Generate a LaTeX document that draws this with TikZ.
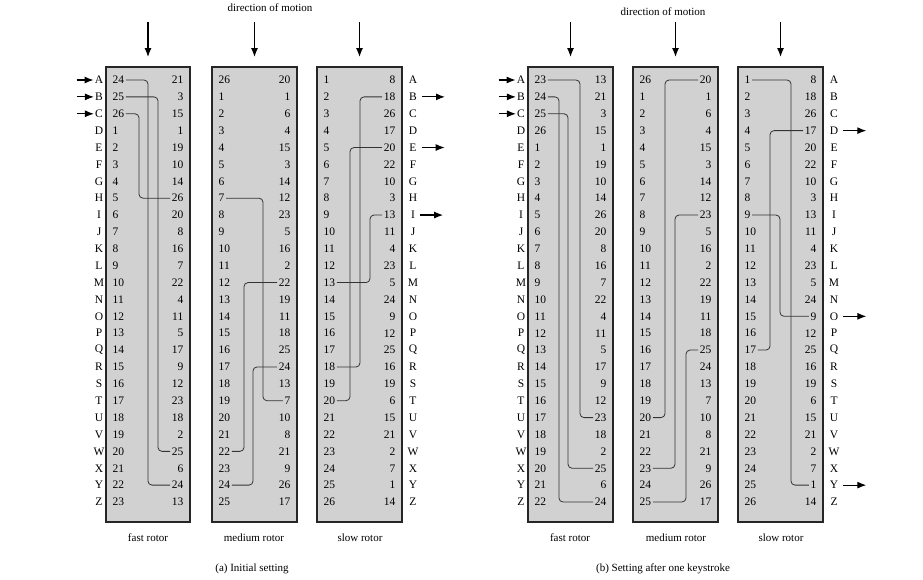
\documentclass[tikz,border=0pt]{standalone}
\usepackage{fontspec}
\setmainfont{Liberation Serif}
\usetikzlibrary{arrows.meta}
\tikzset{
  box/.style={draw=black!85,line width=1.3pt,fill=black!18},
  num/.style={font=\fontsize{11.5}{12}\selectfont,inner sep=1.5pt},
  let/.style={font=\fontsize{11.5}{12}\selectfont,inner sep=1pt},
  wire/.style={draw=black!80,line width=0.8pt,rounded corners=4pt},
  arr/.style={-{Latex[length=9pt,width=7pt]},line width=1.2pt},
  captxt/.style={font=\fontsize{11}{12}\selectfont}
}
\newcommand\rotorcol[5]{%
  \draw[box] (#2,67) rectangle (#3,522);
  \foreach \v [count=\i] in {#4} {\node[num,anchor=west] (#1L\i) at ({#2+5},{80+(\i-1)*16.88}) {\v};}
  \foreach \v [count=\i] in {#5} {\node[num,anchor=east] (#1R\i) at ({#3-5},{80+(\i-1)*16.88}) {\v};}
  \draw[arr] ({(#2+#3)/2},22) -- ({(#2+#3)/2},57);
}
\newcommand\lettercols[3]{%
  \foreach \c [count=\i] in {A,B,C,D,E,F,G,H,I,J,K,L,M,N,O,P,Q,R,S,T,U,V,W,X,Y,Z} {
    \node[let] (#1l\i) at ({#2-7},{80+(\i-1)*16.88}) {\c};
    \node[let] (#1r\i) at ({#3+11},{80+(\i-1)*16.88}) {\c};
  }
}
\newcommand\wirexy[4]{%
  \coordinate (#4) at (#2,0);
  \draw[wire] (#1.east) -- (#1.east -| #4) -- (#4 |- #3.west) -- (#3.west);
}
\begin{document}
\begin{tikzpicture}[x=1pt,y=-1pt]
\useasboundingbox (0,0) rectangle (923,579);
% (a)
\node[captxt] (ta) at (270,8) {direction of motion};
\rotorcol{af}{106}{190}{24,25,26,1,2,3,4,5,6,7,8,9,10,11,12,13,14,15,16,17,18,19,20,21,22,23}{21,3,15,1,19,10,14,26,20,8,16,7,22,4,11,5,17,9,12,23,18,2,25,6,24,13}
\rotorcol{am}{212}{297}{26,1,2,3,4,5,6,7,8,9,10,11,12,13,14,15,16,17,18,19,20,21,22,23,24,25}{20,1,6,4,15,3,14,12,23,5,16,2,22,19,11,18,25,24,13,7,10,8,21,9,26,17}
\rotorcol{as}{317}{402}{1,2,3,4,5,6,7,8,9,10,11,12,13,14,15,16,17,18,19,20,21,22,23,24,25,26}{8,18,26,17,20,22,10,3,13,11,4,23,5,24,9,12,25,16,19,6,15,21,2,7,1,14}
\lettercols{a}{106}{402}
\wirexy{afL1}{148}{afR25}{va1}
\wirexy{afL2}{158}{afR23}{va2}
\wirexy{afL3}{139}{afR8}{va3}
\wirexy{amL23}{244}{amR13}{va4}
\wirexy{amL25}{253}{amR18}{va5}
\wirexy{amL8}{263}{amR20}{va6}
\wirexy{asL13}{370}{asR9}{va7}
\wirexy{asL18}{360}{asR2}{va8}
\wirexy{asL20}{350}{asR5}{va9}
\foreach \i in {1,2,3} {\draw[arr] ([xshift=-17pt]al\i.west) -- (al\i.west);}
\foreach \i in {2,5,9} {\draw[arr] ([xshift=4pt]ar\i.east) -- ([xshift=27pt]ar\i.east);}
\node[captxt] (fa) at (148,538) {fast rotor};
\node[captxt] (ma) at (254,538) {medium rotor};
\node[captxt] (sa) at (360,538) {slow rotor};
\node[captxt] (capa) at (252,569) {(a) Initial setting};
% (b)
\node[captxt] (tb) at (663,12) {direction of motion};
\rotorcol{bf}{528}{613}{23,24,25,26,1,2,3,4,5,6,7,8,9,10,11,12,13,14,15,16,17,18,19,20,21,22}{13,21,3,15,1,19,10,14,26,20,8,16,7,22,4,11,5,17,9,12,23,18,2,25,6,24}
\rotorcol{bm}{633}{718}{26,1,2,3,4,5,6,7,8,9,10,11,12,13,14,15,16,17,18,19,20,21,22,23,24,25}{20,1,6,4,15,3,14,12,23,5,16,2,22,19,11,18,25,24,13,7,10,8,21,9,26,17}
\rotorcol{bs}{738}{823}{1,2,3,4,5,6,7,8,9,10,11,12,13,14,15,16,17,18,19,20,21,22,23,24,25,26}{8,18,26,17,20,22,10,3,13,11,4,23,5,24,9,12,25,16,19,6,15,21,2,7,1,14}
\lettercols{b}{528}{823}
\wirexy{bfL1}{580}{bfR21}{vb1}
\wirexy{bfL2}{559}{bfR26}{vb2}
\wirexy{bfL3}{568}{bfR24}{vb3}
\wirexy{bmL21}{665}{bmR1}{vb4}
\wirexy{bmL24}{675}{bmR9}{vb5}
\wirexy{bmL26}{686}{bmR17}{vb6}
\wirexy{bsL1}{791}{bsR25}{vb7}
\wirexy{bsL9}{780}{bsR15}{vb8}
\wirexy{bsL17}{770}{bsR4}{vb9}
\foreach \i in {1,2,3} {\draw[arr] ([xshift=-17pt]bl\i.west) -- (bl\i.west);}
\foreach \i in {4,15,25} {\draw[arr] ([xshift=4pt]br\i.east) -- ([xshift=27pt]br\i.east);}
\node[captxt] (fb) at (570,538) {fast rotor};
\node[captxt] (mb) at (676,538) {medium rotor};
\node[captxt] (sb) at (781,538) {slow rotor};
\node[captxt] (capb) at (663,569) {(b) Setting after one keystroke};
\end{tikzpicture}
\end{document}
